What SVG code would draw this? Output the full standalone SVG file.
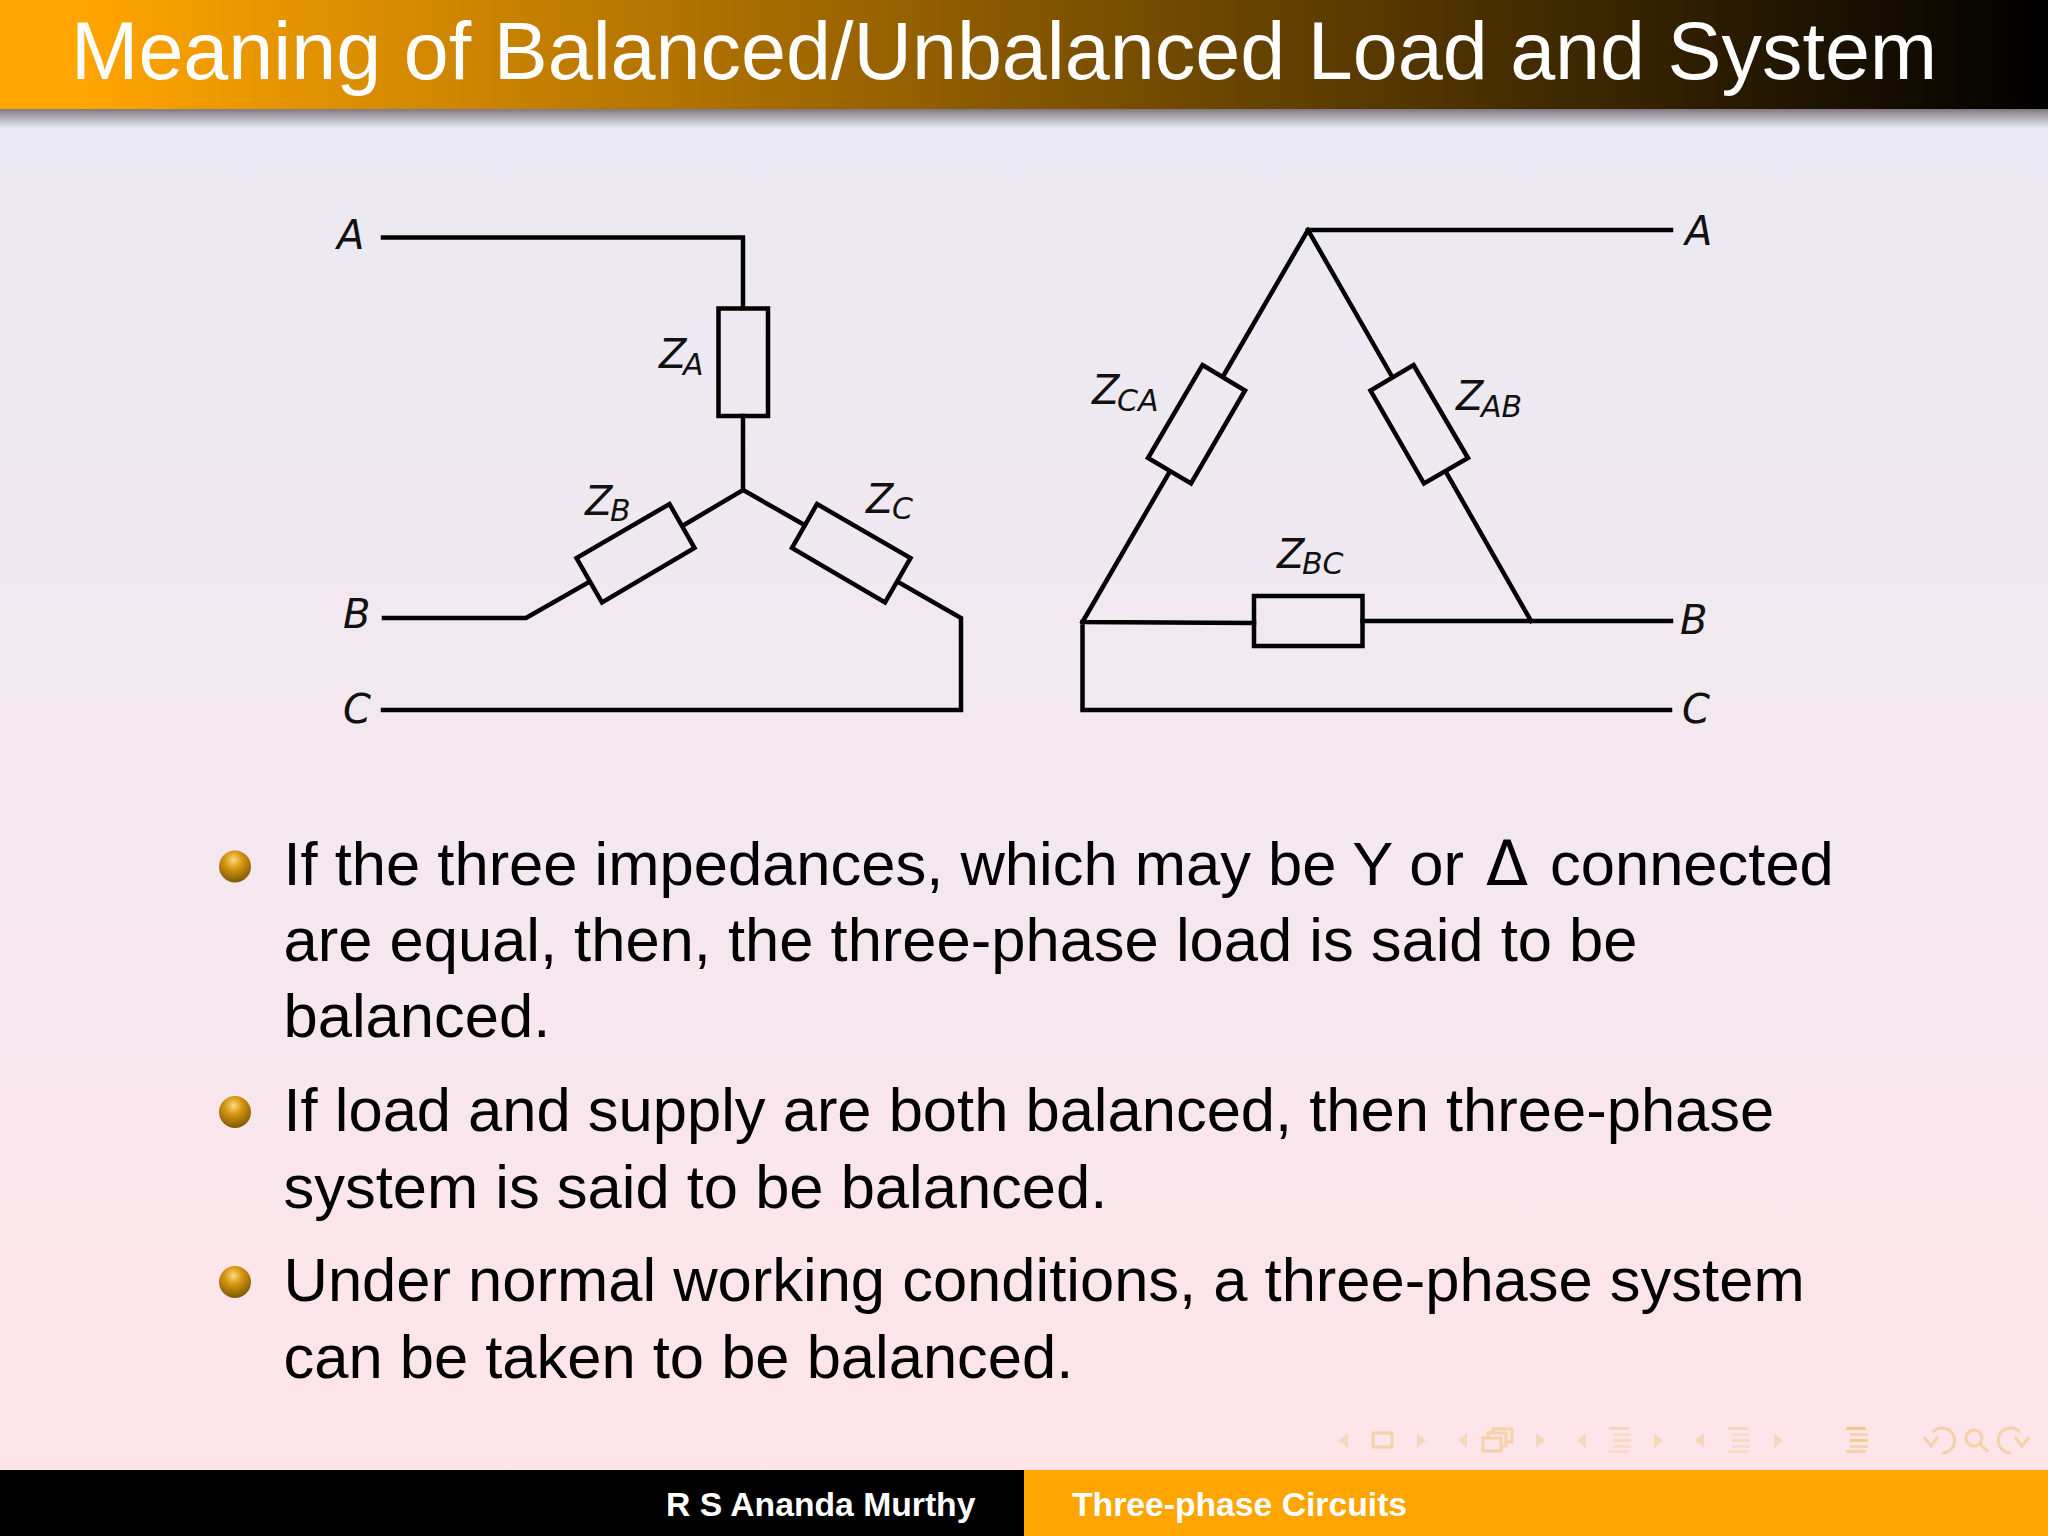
<svg xmlns="http://www.w3.org/2000/svg" width="2048" height="1536" viewBox="0 0 2048 1536">
<style>
.w{fill:none;stroke:#000;stroke-width:4.500;stroke-linecap:square;stroke-linejoin:miter}
.b{fill:none;stroke:#000;stroke-width:4.500;stroke-linejoin:miter}
.l{font-family:"DejaVu Sans",sans-serif;font-style:italic;font-size:40px;fill:#111}
.s{font-family:"DejaVu Sans",sans-serif;font-style:italic;font-size:30px;fill:#111}
.t{font-family:"Liberation Sans",Arial,sans-serif;font-size:61.500px;fill:#000}
.f{font-family:"Liberation Sans",Arial,sans-serif;font-size:33.700px;font-weight:700;fill:#fff}
.n{fill:#f0c98a;opacity:.5}
.ns{fill:none;stroke:#f0c98a;stroke-width:3;opacity:.7}
</style>
<defs>
<linearGradient id="bg" x1="0" y1="0" x2="0" y2="1"><stop offset="0" stop-color="#e9e9f3"/><stop offset=".5" stop-color="#f3e8f0"/><stop offset="1" stop-color="#ffe4e8"/></linearGradient>
<linearGradient id="head" x1="0" y1="0" x2="1" y2="0"><stop offset="0" stop-color="#ffa500"/><stop offset=".04" stop-color="#ffa500"/><stop offset="1" stop-color="#000"/></linearGradient>
<linearGradient id="shadow" x1="0" y1="0" x2="0" y2="1"><stop offset="0" stop-color="#807880"/><stop offset="1" stop-color="#e9e9f3"/></linearGradient>
<radialGradient id="ball" cx=".45" cy=".3" r=".72"><stop offset="0" stop-color="#ffd97a"/><stop offset=".4" stop-color="#d4940f"/><stop offset="1" stop-color="#7c5508"/></radialGradient>
<circle id="bullet" r="16" fill="url(#ball)"/>
<g id="lst"><rect x="0" y="0" width="20" height="3"/><rect x="4" y="6" width="18" height="3" opacity=".6"/><rect x="4" y="12" width="18" height="3" opacity=".9"/><rect x="4" y="18" width="18" height="3" opacity=".6"/><rect x="0" y="23" width="20" height="3" opacity=".7"/></g>
</defs>
<rect width="2048" height="1536" fill="url(#bg)"/>
<rect y="109" width="2048" height="19" fill="url(#shadow)"/>
<g id="header"><rect width="2048" height="109" fill="url(#head)"/>
<text x="71" y="79" font-family="'Liberation Sans',Arial,sans-serif" font-size="80.900" fill="#fff">Meaning of Balanced/Unbalanced Load and System</text></g>

<g id="connectors">
<path class="w" d="M383 237.500H743V308M743 416V490M743 490L684 525M589 582L526 618H384"/>
<path class="w" d="M743 490L804.500 525M898 582L961 618V710H383"/>
<path class="w" d="M1308 230H1671M1308 230L1223 376.500M1169.500 472L1082.500 622M1308 230L1392 376.500M1446 472L1531 621"/>
<path class="w" d="M1082.500 622L1254 623M1362.500 621H1671M1082.500 622V710H1670"/>
</g>

<g id="wye-A"><rect class="b" x="718.500" y="308.500" width="49.500" height="107.500"/>
<text class="l" x="659" y="368">Z</text><text class="s" x="683" y="375">A</text></g>
<g id="wye-B"><path class="b" d="M669.500 504L694.500 548L602 602.500L576.500 558Z"/>
<text class="l" x="585" y="515">Z</text><text class="s" x="610" y="521">B</text></g>
<g id="wye-C"><path class="b" d="M817 504L910.500 558L885 602.500L792 548Z"/>
<text class="l" x="866" y="513">Z</text><text class="s" x="892" y="519">C</text></g>
<g id="terminals-wye"><text class="l" x="337" y="249">A</text><text class="l" x="343" y="628">B</text><text class="l" x="343" y="723">C</text></g>

<g id="delta-CA"><path class="b" d="M1202.500 365L1245 390.500L1191 483.500L1148 458Z"/>
<text class="l" x="1092" y="404">Z</text><text class="s" x="1117" y="411">CA</text></g>
<g id="delta-AB"><path class="b" d="M1413.500 365L1468 458L1424 483.500L1370.500 390.500Z"/>
<text class="l" x="1456" y="410">Z</text><text class="s" x="1481" y="417">AB</text></g>
<g id="delta-BC"><rect class="b" x="1254" y="596" width="108.500" height="50"/>
<text class="l" x="1277" y="568">Z</text><text class="s" x="1302" y="574">BC</text></g>
<g id="terminals-delta"><text class="l" x="1685" y="245">A</text><text class="l" x="1680" y="634">B</text><text class="l" x="1682" y="723">C</text></g>

<g id="bullets">
<use href="#bullet" x="235" y="866.500"/><use href="#bullet" x="235" y="1112"/><use href="#bullet" x="235" y="1282"/>
<text class="t" x="283.500" y="885">If the three impedances, which may be Y or <tspan x="1486" font-family="'DejaVu Sans',sans-serif">Δ</tspan><tspan x="1550">connected</tspan></text>
<text class="t" x="283.500" y="961">are equal, then, the three-phase load is said to be</text>
<text class="t" x="283.500" y="1037">balanced.</text>
<text class="t" x="283.500" y="1131">If load and supply are both balanced, then three-phase</text>
<text class="t" x="283.500" y="1208">system is said to be balanced.</text>
<text class="t" x="283.500" y="1301">Under normal working conditions, a three-phase system</text>
<text class="t" x="283.500" y="1378">can be taken to be balanced.</text>
</g>

<g id="navigation">
<path class="n" d="M1348 1433V1448L1339 1440.500ZM1417 1433V1448L1426 1440.500ZM1467 1433V1448L1458 1440.500ZM1536 1433V1448L1545 1440.500ZM1586 1433V1448L1577 1440.500ZM1654 1433V1448L1663 1440.500ZM1704 1433V1448L1695 1440.500ZM1774 1433V1448L1783 1440.500Z"/>
<rect class="ns" x="1373" y="1433" width="19" height="14"/>
<path class="ns" d="M1483 1438H1501V1451H1483ZM1488 1438V1433H1506V1446H1501M1493 1433V1429H1512V1442H1506"/>
<use href="#lst" x="1609" y="1427" class="n"/>
<use href="#lst" x="1728" y="1427" class="n"/>
<use href="#lst" x="1846" y="1427" fill="#f0c98a"/>
<path class="ns" d="M1933 1432A12.500 12.500 0 1 1 1942 1453M1924 1437L1931 1446L1938 1437"/>
<circle class="ns" cx="1974" cy="1438" r="8"/><path class="ns" d="M1980 1444L1988 1452"/>
<path class="ns" d="M2020 1432A12.500 12.500 0 1 0 2011 1453M2029 1437L2022 1446L2015 1437"/>
</g>

<g id="footer"><rect y="1470" width="1024" height="66" fill="#000"/><rect x="1024" y="1470" width="1024" height="66" fill="#ffa500"/>
<text class="f" x="666" y="1516">R S Ananda Murthy</text>
<text class="f" x="1072" y="1516">Three-phase Circuits</text></g>
</svg>
